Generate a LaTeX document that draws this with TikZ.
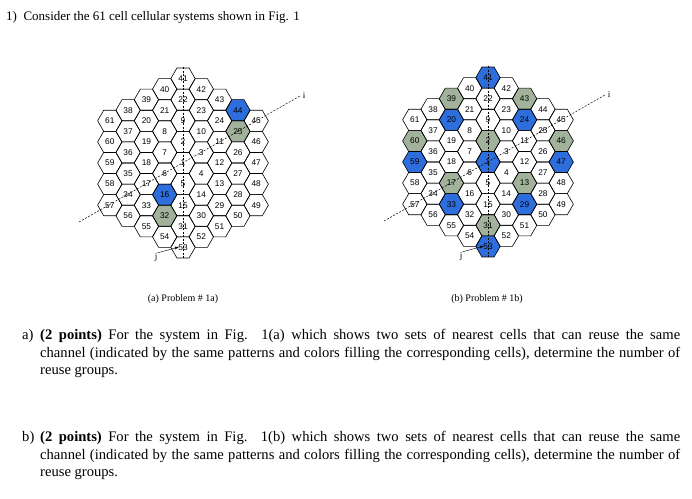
\documentclass[tikz,border=0pt]{standalone}
\usepackage{fontspec}
\setmainfont{Liberation Serif}
\newfontfamily\cellfont{Liberation Sans}
\usetikzlibrary{patterns}
\definecolor{hexblue}{RGB}{45,110,220}
\definecolor{hexgreen}{RGB}{160,185,150}
\newcommand\cellsall{0/-4/41,0/-3/22,0/-2/9,0/-1/2,0/0/1,0/1/5,0/2/15,0/3/31,0/4/53,
1/-3.5/42,1/-2.5/23,1/-1.5/10,1/-0.5/3,1/0.5/4,1/1.5/14,1/2.5/30,1/3.5/52,
2/-3/43,2/-2/24,2/-1/11,2/0/12,2/1/13,2/2/29,2/3/51,
3/-2.5/44,3/-1.5/25,3/-0.5/26,3/0.5/27,3/1.5/28,3/2.5/50,
4/-2/45,4/-1/46,4/0/47,4/1/48,4/2/49,
-1/-3.5/40,-1/-2.5/21,-1/-1.5/8,-1/-0.5/7,-1/0.5/6,-1/1.5/16,-1/2.5/32,-1/3.5/54,
-2/-3/39,-2/-2/20,-2/-1/19,-2/0/18,-2/1/17,-2/2/33,-2/3/55,
-3/-2.5/38,-3/-1.5/37,-3/-0.5/36,-3/0.5/35,-3/1.5/34,-3/2.5/56,
-4/-2/61,-4/-1/60,-4/0/59,-4/1/58,-4/2/57}
\tikzset{x=1pt,y=-1pt,
 hexline/.style={draw=black,line width=0.6pt},
 cellnum/.style={font=\cellfont\fontsize{8.3}{9}\selectfont,inner sep=0pt},
 guide/.style={line width=0.5pt,dash pattern=on 2pt off 1.5pt},
 bluecell/.style={fill=hexblue},
 greencell/.style={fill=hexgreen,postaction={pattern=north east lines,pattern color=black!35}},
 para/.style={anchor=north west,inner sep=0pt,font=\fontsize{14.6}{17.6}\selectfont,text width=658pt,align=justify}}
\newcommand\hexat[3]{% style, q, y  (uses \cx \cy)
 \path[#1] (\cx+18.3*#2,\cy+21.1*#3) +(0:12.2) -- +(60:12.2)
 -- +(120:12.2) -- +(180:12.2) -- +(240:12.2) -- +(300:12.2) -- cycle;}
\newcommand\grid[3]{% cx, cy, name prefix
 \def\cx{#1}\def\cy{#2}
 \foreach \q/\yy/\n in \cellsall {
  \path[hexline] (\cx+18.3*\q,\cy+21.1*\yy) +(0:12.2) -- +(60:12.2)
   -- +(120:12.2) -- +(180:12.2) -- +(240:12.2) -- +(300:12.2) -- cycle;
  \node[cellnum] (#3\n) at (\cx+18.3*\q,\cy+21.1*\yy) {\n};
 }
 \draw[guide] (\cx,\cy-96) -- (\cx,\cy+96);
 \draw[guide] (\cx-104,\cy+59) -- (\cx+117,\cy-67);
 \node[font=\fontsize{9}{9}\selectfont,inner sep=0pt] (#3i) at (\cx+121,\cy-67) {i};
 \node[font=\fontsize{9}{9}\selectfont,inner sep=0pt] (#3j) at (\cx-27,\cy+94) {j};
 \draw[-latex,line width=0.4pt] (#3j.north east) -- (\cx-4,\cy+84);
}
\begin{document}
\begin{tikzpicture}
\useasboundingbox (0,0) rectangle (692,498);
\fill[white] (0,0) rectangle (692,498);
\node[anchor=base west,inner sep=0pt,font=\fontsize{13}{15}\selectfont] (title) at (6,20) {1)\ \ Consider the 61 cell cellular systems shown in Fig. 1};
% left figure
\def\cx{183}\def\cy{163}
\hexat{bluecell}{3}{-2.5}\hexat{bluecell}{-1}{1.5}
\hexat{greencell}{3}{-1.5}\hexat{greencell}{-1}{2.5}
\grid{183}{163}{a}
% right figure
\def\cx{488}\def\cy{162}
\foreach \q/\yy in {0/-4,-2/-2,2/-2,-4/0,0/0,4/0,-2/2,2/2,0/4} {\hexat{bluecell}{\q}{\yy}}
\foreach \q/\yy in {-2/-3,2/-3,-4/-1,0/-1,4/-1,-2/1,2/1,0/3} {\hexat{greencell}{\q}{\yy}}
\grid{488}{162}{b}
\node[font=\fontsize{10}{11}\selectfont,inner sep=0pt] (capa) at (183,299) {(a) Problem \# 1a)};
\node[font=\fontsize{10}{11}\selectfont,inner sep=0pt] (capb) at (487,299) {(b) Problem \# 1b)};
\node[para] (qa) at (22,329)
 {\hangindent=18pt\hangafter=1 \hbox to 18pt{a)\hfil}\textbf{(2 points)} For the system in Fig. 1(a) which shows two sets of nearest cells that can reuse the same\linebreak channel (indicated by the same patterns and colors filling the corresponding cells), determine the number of reuse groups.\par};
\node[para] (qb) at (22,431)
 {\hangindent=18pt\hangafter=1 \hbox to 18pt{b)\hfil}\textbf{(2 points)} For the system in Fig. 1(b) which shows two sets of nearest cells that can reuse the same\linebreak channel (indicated by the same patterns and colors filling the corresponding cells), determine the number of reuse groups.\par};
\end{tikzpicture}
\end{document}
